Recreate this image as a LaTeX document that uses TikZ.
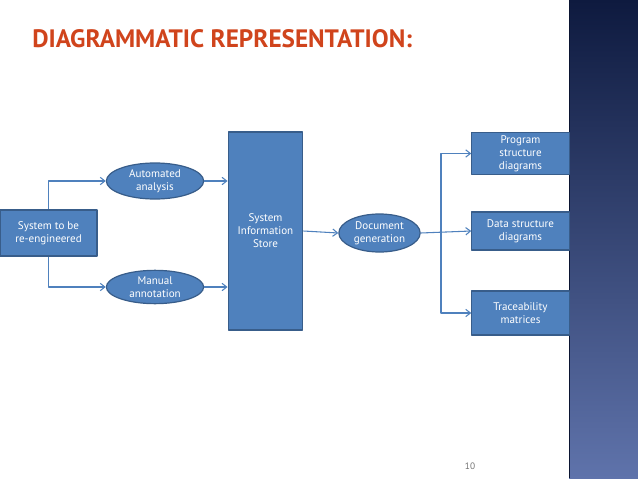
\documentclass[tikz,border=0pt]{standalone}
\usepackage{fontspec}
\setmainfont{PT Sans}
\usetikzlibrary{shapes.geometric,arrows.meta}
\definecolor{boxblue}{HTML}{4F81BD}
\definecolor{boxline}{HTML}{385D8A}
\definecolor{titlered}{HTML}{D0441C}
\definecolor{stripdark}{HTML}{0E1A3F}
\definecolor{striplight}{HTML}{5F73AB}
\tikzset{
	blk/.style={draw=boxline,fill=boxblue,text=white,align=center,inner sep=0,line width=0.9pt,font=\fontsize{8.3}{9.75}\selectfont},
	oval/.style={ellipse,draw=boxline,fill=boxblue,text=white,align=center,inner sep=0,line width=0.9pt,font=\fontsize{8.3}{9.75}\selectfont},
	conn/.style={draw=boxblue,line width=0.8pt,-{Straight Barb[length=3.5pt,width=5.5pt]}}
}
\begin{document}
\begin{tikzpicture}[x=0.75pt,y=-0.75pt,line join=round]
		\useasboundingbox(0,0)rectangle(638,478);
		% side strip
		\shade[top color=stripdark,bottom color=striplight](569,0)rectangle(638,478);
		\draw[stripdark!80!black,line width=0.6pt](569,0)--(569,478);
		% title and page number
		\path(32,47.5)node[anchor=base west,text=titlered,font=\fontsize{18.9}{20}\selectfont\bfseries,inner sep=0](title){DIAGRAMMATIC REPRESENTATION:}
			(470,466)node[text=black!55,font=\fontsize{7}{8}\selectfont](pagenum){10};
		% nodes
		\path(48.5,233)node[blk,minimum width=72.75pt,minimum height=34.5pt](sys){System to be\\re-engineered}
			(155,181)node[oval,minimum width=73pt,minimum height=27pt](auto){Automated\\analysis}
			(155,287)node[oval,minimum width=73pt,minimum height=25pt](manual){Manual\\annotation}
			(265.5,231)node[blk,minimum width=56pt,minimum height=148.5pt](sis){System\\Information\\Store}
			(379.5,233)node[oval,minimum width=61pt,minimum height=28.5pt](docgen){Document\\generation}
			;
		\path(520.5,153.5)node[blk,minimum width=73pt,minimum height=32pt](prog){Program\\structure\\diagrams}
			(520.5,231)node[blk,minimum width=73pt,minimum height=28.5pt](data){Data structure\\diagrams}
			(520.5,313)node[blk,minimum width=73pt,minimum height=33pt](trace){Traceability\\matrices}
			;
		\coordinate(split)at(441,231);
		% connectors
		\draw[conn](sys.north)|-(auto.west);
		\draw[conn](sys.south)|-(manual.west);
		\draw[conn](auto.east)--(auto.east-|sis.west);
		\draw[conn](manual.east)--(manual.east-|sis.west);
		\draw[conn](sis.east)--(docgen.west);
		\draw[conn](docgen.east)--(data.west);
		\draw[conn](split)|-(prog.west);
		\draw[conn](split)|-(trace.west);
\end{tikzpicture}
\end{document}
